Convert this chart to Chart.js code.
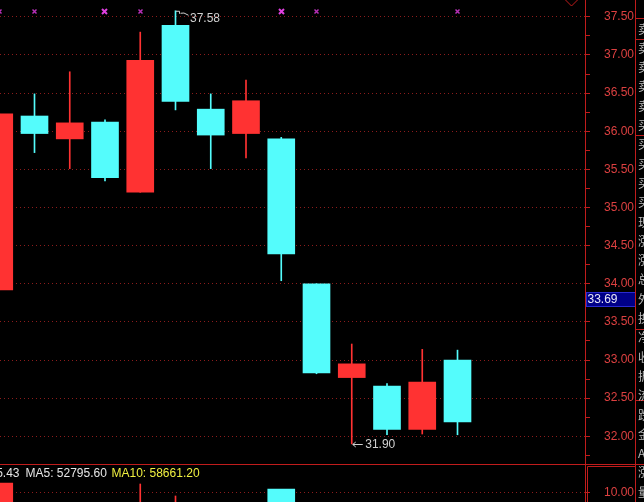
<!DOCTYPE html>
<html lang="zh-CN"><head><meta charset="utf-8">
<title>K线图</title>
<script src="https://cdn.jsdelivr.net/npm/chart.js@4.4.1/dist/chart.umd.min.js"></script>
<style>
html,body{margin:0;padding:0;background:#000;width:644px;height:502px;overflow:hidden}
#wrap{position:relative;width:644px;height:502px;background:#000}
canvas{position:absolute;left:0;display:block}
#price{top:0}
#vol{top:464px}
</style></head><body>
<div id="wrap"><canvas id="price" width="644" height="464"></canvas><canvas id="vol" width="644" height="38"></canvas></div>
<script>
// ---------------- data ----------------
const candleIndex = [0,1,2,3,4,5,6,7,8,9,10,11,12,13];
const openPrices  = [33.92,36.20,35.90,36.12,35.20,37.39,36.29,35.97,35.90,34.00,32.77,32.66,32.09,33.00];
const closePrices = [36.23,35.97,36.11,35.39,36.93,36.39,35.95,36.40,34.39,32.83,32.95,32.09,32.71,32.19];
const highPrices  = [36.23,36.49,36.78,36.15,37.30,37.58,36.49,36.67,35.92,34.00,33.21,32.69,33.14,33.13];
const lowPrices   = [33.92,35.72,35.51,35.35,35.20,36.28,35.51,35.65,34.04,32.82,31.90,32.02,32.03,32.02];
const volumeBars  = [11.97,null,null,null,null,null,null,null,10.70,null,null,null,null,null];
const volumeLines = [null,null,null,null,11.76,9.22,null,null,null,null,null,null,null,null];
const infoMarkers = [0,1,3,4,8,9,13];
const priceTickLabels = ['32.00','32.50','33.00','33.50','34.00','34.50','35.00','35.50','36.00','36.50','37.00','37.50'];
const volumeTickLabels = ['10.00'];
const lastPrice = 33.69;
const highMark = 37.58;
const lowMark = 31.90;
const volumeTextParts = ['5.43', 'MA5: 52795.60', 'MA10: 58661.20'];
const sidePanelLabels = ['卖⑤','卖④','卖③','卖②','卖①','买①','买②','买③','买④','买⑤','现价','涨跌','涨幅','总手','外盘','换手','净资','收益','振幅','流通','跌停','金额','A股','涨停','量比','内盘'];

// ---------------- style ----------------
const RED = '#ff3232', CYAN = '#54fcfc';
const AXIS_RED = '#c01c1c', LABEL_RED = '#dc4040', GRID_RED = '#8c1c1c';
const FONT = '"Liberation Sans", Arial, sans-serif';
const X_MIN = 0.0213, X_MAX = 16.617;
const Y_MAX = 37.7212, Y_MIN = 31.6367;
const isUp = i => closePrices[i] >= openPrices[i];
const candleColors = candleIndex.map(i => isUp(i) ? RED : CYAN);

function yAxisFit(scale){ scale.width = 59; scale.paddingTop = 0; scale.paddingBottom = 0; }

const priceDecor = {
  id: 'priceDecor',
  afterDraw(chart){
    const {ctx, scales:{x, y}} = chart;
    ctx.save();
    // information markers
    infoMarkers.forEach(i => {
      const px = Math.round(x.getPixelForValue(i) - 0.5) + 0.5, py = 11.5;
      const strong = (i === 3 || i === 8);
      const r = strong ? 2.5 : 2;
      ctx.strokeStyle = strong ? '#e040e0' : '#b830b8';
      ctx.lineWidth = strong ? 2 : 1.5;
      ctx.beginPath();
      ctx.moveTo(px - r, py - r); ctx.lineTo(px + r, py + r);
      ctx.moveTo(px + r, py - r); ctx.lineTo(px - r, py + r);
      ctx.stroke();
    });
    ctx.font = '12px ' + FONT;
    ctx.textBaseline = 'middle';
    // high flag
    const hIdx = highPrices.indexOf(highMark);
    const hx = x.getPixelForValue(hIdx), hy = y.getPixelForValue(highMark);
    ctx.strokeStyle = '#d0d0d0'; ctx.lineWidth = 1;
    ctx.beginPath();
    ctx.moveTo(hx + 0.5, hy + 0.5); ctx.lineTo(hx + 4, hy + 0.5); ctx.lineTo(hx + 4, hy + 3);
    ctx.moveTo(hx + 5, hy + 2.5); ctx.quadraticCurveTo(hx + 8, hy + 1, hx + 13, hy + 4.5);
    ctx.stroke();
    ctx.fillStyle = '#d0d0d0'; ctx.textAlign = 'left';
    ctx.fillText(highMark.toFixed(2), hx + 14.5, hy + 7.5);
    // low arrow
    const lIdx = lowPrices.indexOf(lowMark);
    const lx = x.getPixelForValue(lIdx), ly = Math.round(y.getPixelForValue(lowMark)) + 0.5;
    ctx.beginPath();
    ctx.moveTo(lx + 1, ly); ctx.lineTo(lx + 11, ly);
    ctx.moveTo(lx + 1, ly); ctx.lineTo(lx + 4, ly - 2.5);
    ctx.moveTo(lx + 1, ly); ctx.lineTo(lx + 4, ly + 2.5);
    ctx.stroke();
    ctx.fillText(lowMark.toFixed(2), lx + 13.5, ly);
    // last price box
    const py = Math.round(y.getPixelForValue(lastPrice));
    ctx.fillStyle = '#000088';
    ctx.fillRect(586, py - 15, 50, 15);
    ctx.strokeStyle = '#2a2ad0';
    ctx.strokeRect(586.5, py - 14.5, 49, 14);
    ctx.fillStyle = '#e8e8f8';
    ctx.fillText(lastPrice.toFixed(2), 587.5, py - 7);
    // right side panel border and clipped labels
    ctx.strokeStyle = AXIS_RED; ctx.lineWidth = 1;
    ctx.beginPath(); ctx.moveTo(635.5, 0); ctx.lineTo(635.5, 464);
    [18.5, 39.5, 135.5, 329.5, 400.5].forEach(v => { ctx.moveTo(636, v); ctx.lineTo(644, v); });
    ctx.stroke();
    // top-right diamond
    ctx.beginPath();
    ctx.moveTo(571.5, -6); ctx.lineTo(577.5, 0); ctx.lineTo(571.5, 6); ctx.lineTo(565.5, 0); ctx.closePath();
    ctx.stroke();
    drawSide(ctx, 0);
    ctx.restore();
  }
};

function drawSide(ctx, offset){
  ctx.save();
  ctx.beginPath(); ctx.rect(637, 0, 7, 600); ctx.clip();
  ctx.font = '12px "Noto Sans CJK SC"';
  ctx.fillStyle = '#bdbdbd'; ctx.textAlign = 'left'; ctx.textBaseline = 'middle';
  sidePanelLabels.forEach((s, k) => ctx.fillText(s, 638, 29 + k * 19.3 - offset));
  ctx.restore();
}

const volDecor = {
  id: 'volDecor',
  afterDraw(chart){
    const {ctx} = chart;
    ctx.save();
    ctx.strokeStyle = AXIS_RED; ctx.lineWidth = 1;
    ctx.beginPath();
    ctx.moveTo(0, 0.5); ctx.lineTo(644, 0.5);
    ctx.moveTo(587.5, 38); ctx.lineTo(587.5, 2.5); ctx.lineTo(635.5, 2.5);
    ctx.moveTo(635.5, 0); ctx.lineTo(635.5, 38);
    ctx.stroke();
    ctx.font = '12px ' + FONT;
    ctx.textBaseline = 'alphabetic';
    ctx.fillStyle = '#e6e6e6';
    ctx.textAlign = 'right';
    ctx.fillText(volumeTextParts[0], 19.5, 13);
    ctx.textAlign = 'left';
    ctx.fillText(volumeTextParts[1], 25.5, 13);
    ctx.fillStyle = '#f0f040';
    ctx.fillText(volumeTextParts[2], 111.5, 13);
    drawSide(ctx, 464);
    ctx.restore();
  }
};

const yTickCommon = {
  color: LABEL_RED, font: {family: FONT, size: 12}, padding: 14, crossAlign: 'near', autoSkip: false
};

// ---------------- price chart ----------------
new Chart(document.getElementById('price'), {
  type: 'bar',
  data: { datasets: [
    { label: 'wick', data: candleIndex.map(i => ({x: i, y: [lowPrices[i], highPrices[i]]})),
      backgroundColor: candleColors, barThickness: 1, grouped: false, order: 2, borderWidth: 0 },
    { label: 'body', data: candleIndex.map(i => ({x: i, y: [openPrices[i], closePrices[i]]})),
      backgroundColor: candleColors, barThickness: 27, grouped: false, order: 1, borderWidth: 0 }
  ]},
  options: {
    responsive: false, animation: false, devicePixelRatio: 1,
    layout: {padding: 0},
    plugins: {legend: {display: false}, tooltip: {enabled: false}},
    scales: {
      x: {type: 'linear', min: X_MIN, max: X_MAX, display: false, offset: false},
      y: {
        position: 'right', min: Y_MIN, max: Y_MAX,
        afterBuildTicks: scale => {
          const t = [{value: 31.75}];
          priceTickLabels.forEach(s => { const v = parseFloat(s); t.push({value: v}); if (v + 0.25 < Y_MAX) t.push({value: v + 0.25}); });
          scale.ticks = t.filter(o => o.value >= Y_MIN && o.value <= Y_MAX);
        },
        afterFit: yAxisFit,
        ticks: Object.assign({}, yTickCommon, {
          callback: v => priceTickLabels.find(s => Math.abs(parseFloat(s) - v) < 1e-6) || ''
        }),
        grid: {
          color: c => (c.tick && priceTickLabels.some(s => Math.abs(parseFloat(s) - c.tick.value) < 1e-6)) ? GRID_RED : 'rgba(0,0,0,0)',
          tickColor: AXIS_RED, tickLength: 5, lineWidth: 1, tickBorderDash: []
        },
        border: {display: true, color: AXIS_RED, width: 1, dash: [1, 3]}
      }
    }
  },
  plugins: [priceDecor]
});

// ---------------- volume chart ----------------
new Chart(document.getElementById('vol'), {
  type: 'bar',
  data: { datasets: [
    { label: 'volume', data: candleIndex.map(i => ({x: i, y: volumeBars[i]})),
      backgroundColor: candleColors, barThickness: 27, grouped: false, borderWidth: 0 },
    { label: 'volume line', data: candleIndex.map(i => ({x: i, y: volumeLines[i]})),
      backgroundColor: RED, barThickness: 1, grouped: false, borderWidth: 0 }
  ]},
  options: {
    responsive: false, animation: false, devicePixelRatio: 1,
    layout: {padding: 0},
    plugins: {legend: {display: false}, tooltip: {enabled: false}},
    scales: {
      x: {type: 'linear', min: X_MIN, max: X_MAX, display: false, offset: false},
      y: {
        position: 'right', min: 7.944, max: 16,
        afterBuildTicks: scale => { scale.ticks = volumeTickLabels.map(s => ({value: parseFloat(s)})); },
        afterFit: yAxisFit,
        ticks: Object.assign({}, yTickCommon, { callback: v => volumeTickLabels.find(s => Math.abs(parseFloat(s) - v) < 1e-6) || '' }),
        grid: { color: GRID_RED, tickColor: AXIS_RED, tickLength: 5, lineWidth: 1, tickBorderDash: [] },
        border: {display: true, color: AXIS_RED, width: 1, dash: [1, 3]}
      }
    }
  },
  plugins: [volDecor]
});
</script>
</body></html>
